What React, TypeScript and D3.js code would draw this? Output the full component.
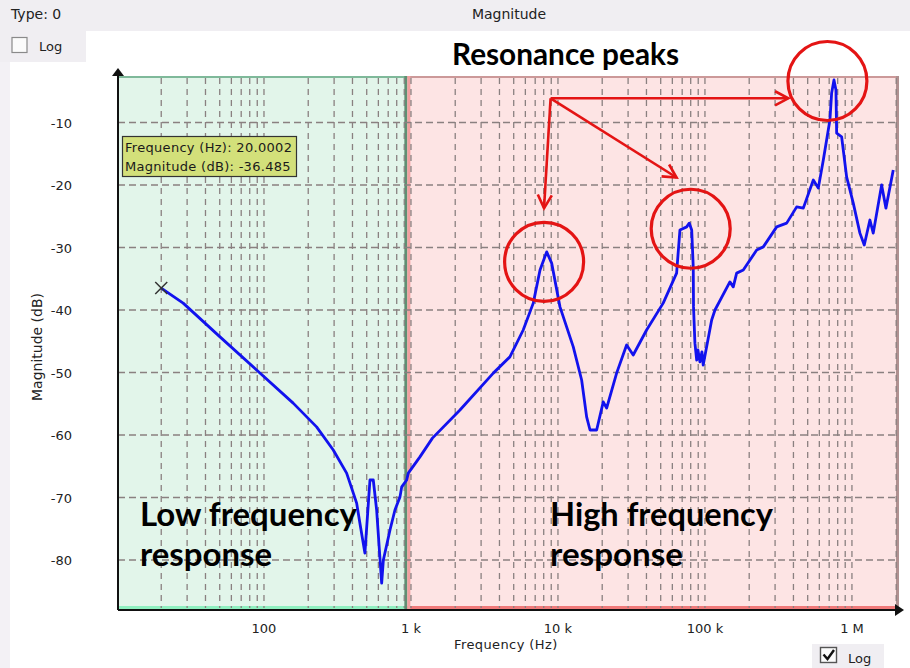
import React from "react";
import * as d3 from "d3";

// ---- data ----
const FREQ_HZ = [
  20, 28.2, 50.2, 89.1, 158, 228, 296, 365, 427, 450, 486, 513, 526, 554, 584, 632, 649,
  720, 778, 842, 865, 935, 959, 1151, 1400, 2155, 3631, 4710, 5802, 6792, 7551, 8380,
  9060, 10320, 12710, 14490, 15670, 16520, 18330, 20330, 21440, 25070, 29310, 32510,
  40090, 51990, 64150, 67570, 75120, 78230, 81250, 83250, 83600, 85470, 87860, 89600,
  92400, 95400, 97300, 111100, 117000, 147800, 155800, 164300, 182300, 224900, 249500,
  307600, 359700, 420800, 466900, 546000, 590400, 638600, 708200, 727500, 754600,
  778400, 787000, 851000, 920000, 1021000, 1133000, 1213000, 1325000, 1396000,
  1592000, 1703000, 1910000,
];
const MAG_DB = [
  -36.5, -38.9, -44.3, -49.6, -54.9, -58.7, -62.4, -66.1, -70.9, -74.2, -78.9, -70.9,
  -67.2, -67.2, -72.0, -83.7, -80.0, -75.2, -72.0, -69.9, -68.3, -67.2, -66.1, -63.5,
  -60.5, -56.0, -50.1, -47.5, -43.2, -38.9, -33.6, -30.7, -32.5, -39.5, -45.9, -51.2,
  -57.1, -59.2, -59.2, -54.7, -55.7, -50.1, -45.6, -47.2, -43.2, -38.9, -34.1, -27.2,
  -26.7, -26.1, -27.2, -33.1, -39.5, -45.3, -48.0, -46.4, -48.3, -46.7, -48.8, -41.6,
  -40.0, -35.5, -36.3, -34.1, -33.6, -30.4, -29.9, -26.7, -26.1, -23.5, -23.7, -19.2,
  -20.5, -16.0, -9.6, -5.3, -3.2, -4.8, -11.7, -12.3, -18.7, -22.9, -27.7, -29.6,
  -25.6, -27.7, -20.0, -23.7, -17.6,
];

const X_DOMAIN = [10.16, 2090000];
const Y_DOMAIN = [-88, -2.56];
const X_TICKS = [100, 1000, 10000, 100000, 1000000];
const X_TICK_LABELS = ["100", "1 k", "10 k", "100 k", "1 M"];
const Y_TICKS = [-10, -20, -30, -40, -50, -60, -70, -80];
const Y_TICK_LABELS = ["-10", "-20", "-30", "-40", "-50", "-60", "-70", "-80"];
const DECADES = [10, 100, 1000, 10000, 100000, 1000000];
const REGION_SPLIT_HZ = 945;

// marker / tooltip
const MARKER = { f: 20, db: -36.485 };
const TOOLTIP_LINES = ["Frequency (Hz): 20.0002", "Magnitude (dB): -36.485"];

// annotations: circles around peaks and arrows
const PEAK_CIRCLES = [
  { f: 8050, db: -32.3 },
  { f: 80000, db: -27.0 },
  { f: 681000, db: -3.36 },
];
const ARROW_ORIGIN = { f: 8910, db: -6.13 };
const ARROW_TIPS = [
  { f: 8040, db: -23.7 },
  { f: 64100, db: -18.8 },
  { f: 369000, db: -6.13 },
];

const W = 910;
const H = 668;
const PL = 118, PR = 899, PT = 76, PB = 610;

const FONT = "'DejaVu Sans', Verdana, sans-serif";
const BOLD = "Lato, 'Open Sans', sans-serif";

export default function App() {
  const x = d3.scaleLog().domain(X_DOMAIN).range([PL, PR]);
  const y = d3.scaleLinear().domain(Y_DOMAIN).range([PB, PT]);

  const gridX: number[] = [];
  DECADES.forEach((d) => {
    for (let m = 1; m <= 9; m++) {
      const f = d * m;
      if (f > X_DOMAIN[0] && f < X_DOMAIN[1]) gridX.push(f);
    }
  });

  const pts: [number, number][] = FREQ_HZ.map((f, i) => [f, MAG_DB[i]]);
  const line = d3
    .line<[number, number]>()
    .x((d) => x(d[0]))
    .y((d) => y(d[1]));

  const splitX = x(REGION_SPLIT_HZ);
  const mx = x(MARKER.f);
  const my = y(MARKER.db);

  const ox = x(ARROW_ORIGIN.f);
  const oy = y(ARROW_ORIGIN.db);
  const arrowHead = (tx: number, ty: number) => {
    const ang = Math.atan2(ty - oy, tx - ox);
    const L = 15;
    const a = (28 * Math.PI) / 180;
    const p1 = [tx - L * Math.cos(ang - a), ty - L * Math.sin(ang - a)];
    const p2 = [tx - L * Math.cos(ang + a), ty - L * Math.sin(ang + a)];
    return `M${p1[0]},${p1[1]}L${tx},${ty}L${p2[0]},${p2[1]}`;
  };

  const red = "#e41414";

  return (
    <svg
      width={W}
      height={H}
      style={{ position: "absolute", left: 0, top: 0, background: "#ffffff" }}
      xmlns="http://www.w3.org/2000/svg"
    >
      {/* window chrome */}
      <rect x={0} y={0} width={W} height={H} fill="#ffffff" />
      <rect x={0} y={0} width={W} height={31} fill="#f0eef2" />
      <rect x={0} y={31} width={10} height={H - 31} fill="#f3f1f5" />
      <rect x={0} y={31} width={86} height={31} fill="#f0eef2" />
      <text x={11} y={19} fontFamily={FONT} fontSize={14} fill="#222">Type: 0</text>
      <text x={509} y={19} textAnchor="middle" fontFamily={FONT} fontSize={14} fill="#222">Magnitude</text>
      {/* top-left Log checkbox */}
      <rect x={12} y={37.5} width={15} height={15} fill="#fbfbfb" stroke="#8a8a8a" strokeWidth={1.2} />
      <text x={39} y={51} fontFamily={FONT} fontSize={13} fill="#222">Log</text>

      {/* regions */}
      <rect x={PL} y={PT} width={splitX - PL} height={PB - PT} fill="#e2f5ea" />
      <rect x={splitX} y={PT} width={PR - splitX} height={PB - PT} fill="#fde4e4" />
      {/* bevel edges */}
      <rect x={PL} y={PT} width={splitX - PL} height={2} fill="#7fb99a" />
      <rect x={PL} y={PB - 4} width={splitX - PL} height={4} fill="#8ff0c0" />
      <rect x={splitX - 3} y={PT} width={3} height={PB - PT} fill="#5f8f72" />
      <rect x={splitX} y={PT} width={PR - splitX} height={2} fill="#c99" />
      <rect x={splitX} y={PB - 4} width={PR - splitX} height={4} fill="#f07a7a" />
      <rect x={splitX} y={PT} width={3} height={PB - PT} fill="#f2a0a0" />
      <rect x={PR - 3} y={PT} width={3} height={PB - PT} fill="#b09090" />

      {/* grid */}
      {gridX.map((f, i) => (
        <line key={"gx" + i} x1={x(f)} x2={x(f)} y1={PT + 2} y2={PB - 2}
          stroke="#8a8080" strokeWidth={1.3} strokeDasharray="6,5" />
      ))}
      {Y_TICKS.map((v, i) => (
        <line key={"gy" + i} x1={PL} x2={PR - 3} y1={y(v)} y2={y(v)}
          stroke="#8a8080" strokeWidth={1.3} strokeDasharray="7,4" />
      ))}

      {/* axes */}
      <line x1={PL} x2={PL} y1={PT - 4} y2={PB} stroke="#111" strokeWidth={2} />
      <path d={`M${PL - 6},${PT}L${PL},${PT - 8}L${PL + 6},${PT}Z`} fill="#111" />
      <line x1={PL} x2={PR + 2} y1={PB} y2={PB} stroke="#111" strokeWidth={2} />
      <path d={`M${PR - 4},${PB - 6}L${PR + 5},${PB}L${PR - 4},${PB + 6}Z`} fill="#111" />

      {/* tick labels */}
      {X_TICKS.map((v, i) => (
        <text key={"xt" + i} x={x(v)} y={633} textAnchor="middle" fontFamily={FONT} fontSize={13} fill="#222">
          {X_TICK_LABELS[i]}
        </text>
      ))}
      {Y_TICKS.map((v, i) => (
        <text key={"yt" + i} x={72} y={y(v) + 5} textAnchor="end" fontFamily={FONT} fontSize={13} fill="#222">
          {Y_TICK_LABELS[i]}
        </text>
      ))}
      <text x={454} y={649} fontFamily={FONT} fontSize={13} letterSpacing={0.4} fill="#222">Frequency (Hz)</text>
      <text transform={`translate(42,347) rotate(-90)`} textAnchor="middle" fontFamily={FONT} fontSize={14} fill="#222">
        Magnitude (dB)
      </text>

      {/* bottom-right Log checkbox */}
      <rect x={812} y={644} width={72} height={24} fill="#f0eef2" />
      <rect x={820.5} y={647.5} width={16} height={15} fill="#fbfbfb" stroke="#555" strokeWidth={1.4} />
      <path d="M823.5,654.5L827.5,659L834,650" fill="none" stroke="#111" strokeWidth={2.4} />
      <text x={848} y={663} fontFamily={FONT} fontSize={13} fill="#222">Log</text>

      {/* curve */}
      <path d={line(pts) || ""} fill="none" stroke="#1212ee" strokeWidth={2.8} strokeLinejoin="round" />

      {/* marker */}
      <path d={`M${mx - 6},${my - 6}L${mx + 6},${my + 6}M${mx - 6},${my + 6}L${mx + 6},${my - 6}`}
        stroke="#333" strokeWidth={1.5} />

      {/* tooltip */}
      <rect x={122.5} y={136.5} width={174} height={40} fill="#d3e07a" stroke="#333" strokeWidth={1.2} />
      {TOOLTIP_LINES.map((t, i) => (
        <text key={"tt" + i} x={125} y={152 + i * 19} fontFamily={FONT} fontSize={13} letterSpacing={0.3} fill="#1a1a1a">
          {t}
        </text>
      ))}

      {/* annotations */}
      {PEAK_CIRCLES.map((c, i) => (
        <circle key={"c" + i} cx={x(c.f)} cy={y(c.db)} r={39.5} fill="none" stroke={red} strokeWidth={3.2} />
      ))}
      {ARROW_TIPS.map((t, i) => {
        const tx = x(t.f);
        const ty = y(t.db);
        return (
          <g key={"a" + i}>
            <line x1={ox} y1={oy} x2={tx} y2={ty} stroke={red} strokeWidth={2.6} />
            <path d={arrowHead(tx, ty)} fill="none" stroke={red} strokeWidth={2.6} />
          </g>
        );
      })}

      <text x={452} y={65} fontFamily={BOLD} fontWeight={700} fontSize={30} textLength={227} lengthAdjust="spacingAndGlyphs" fill="#000">
        Resonance peaks
      </text>
      <text x={140} y={526} fontFamily={BOLD} fontWeight={700} fontSize={33} textLength={217} lengthAdjust="spacingAndGlyphs" fill="#000">
        Low frequency
      </text>
      <text x={140} y={566} fontFamily={BOLD} fontWeight={700} fontSize={33} textLength={132} lengthAdjust="spacingAndGlyphs" fill="#000">
        response
      </text>
      <text x={550} y={526} fontFamily={BOLD} fontWeight={700} fontSize={33} textLength={223} lengthAdjust="spacingAndGlyphs" fill="#000">
        High frequency
      </text>
      <text x={550} y={566} fontFamily={BOLD} fontWeight={700} fontSize={33} textLength={133} lengthAdjust="spacingAndGlyphs" fill="#000">
        response
      </text>
    </svg>
  );
}
